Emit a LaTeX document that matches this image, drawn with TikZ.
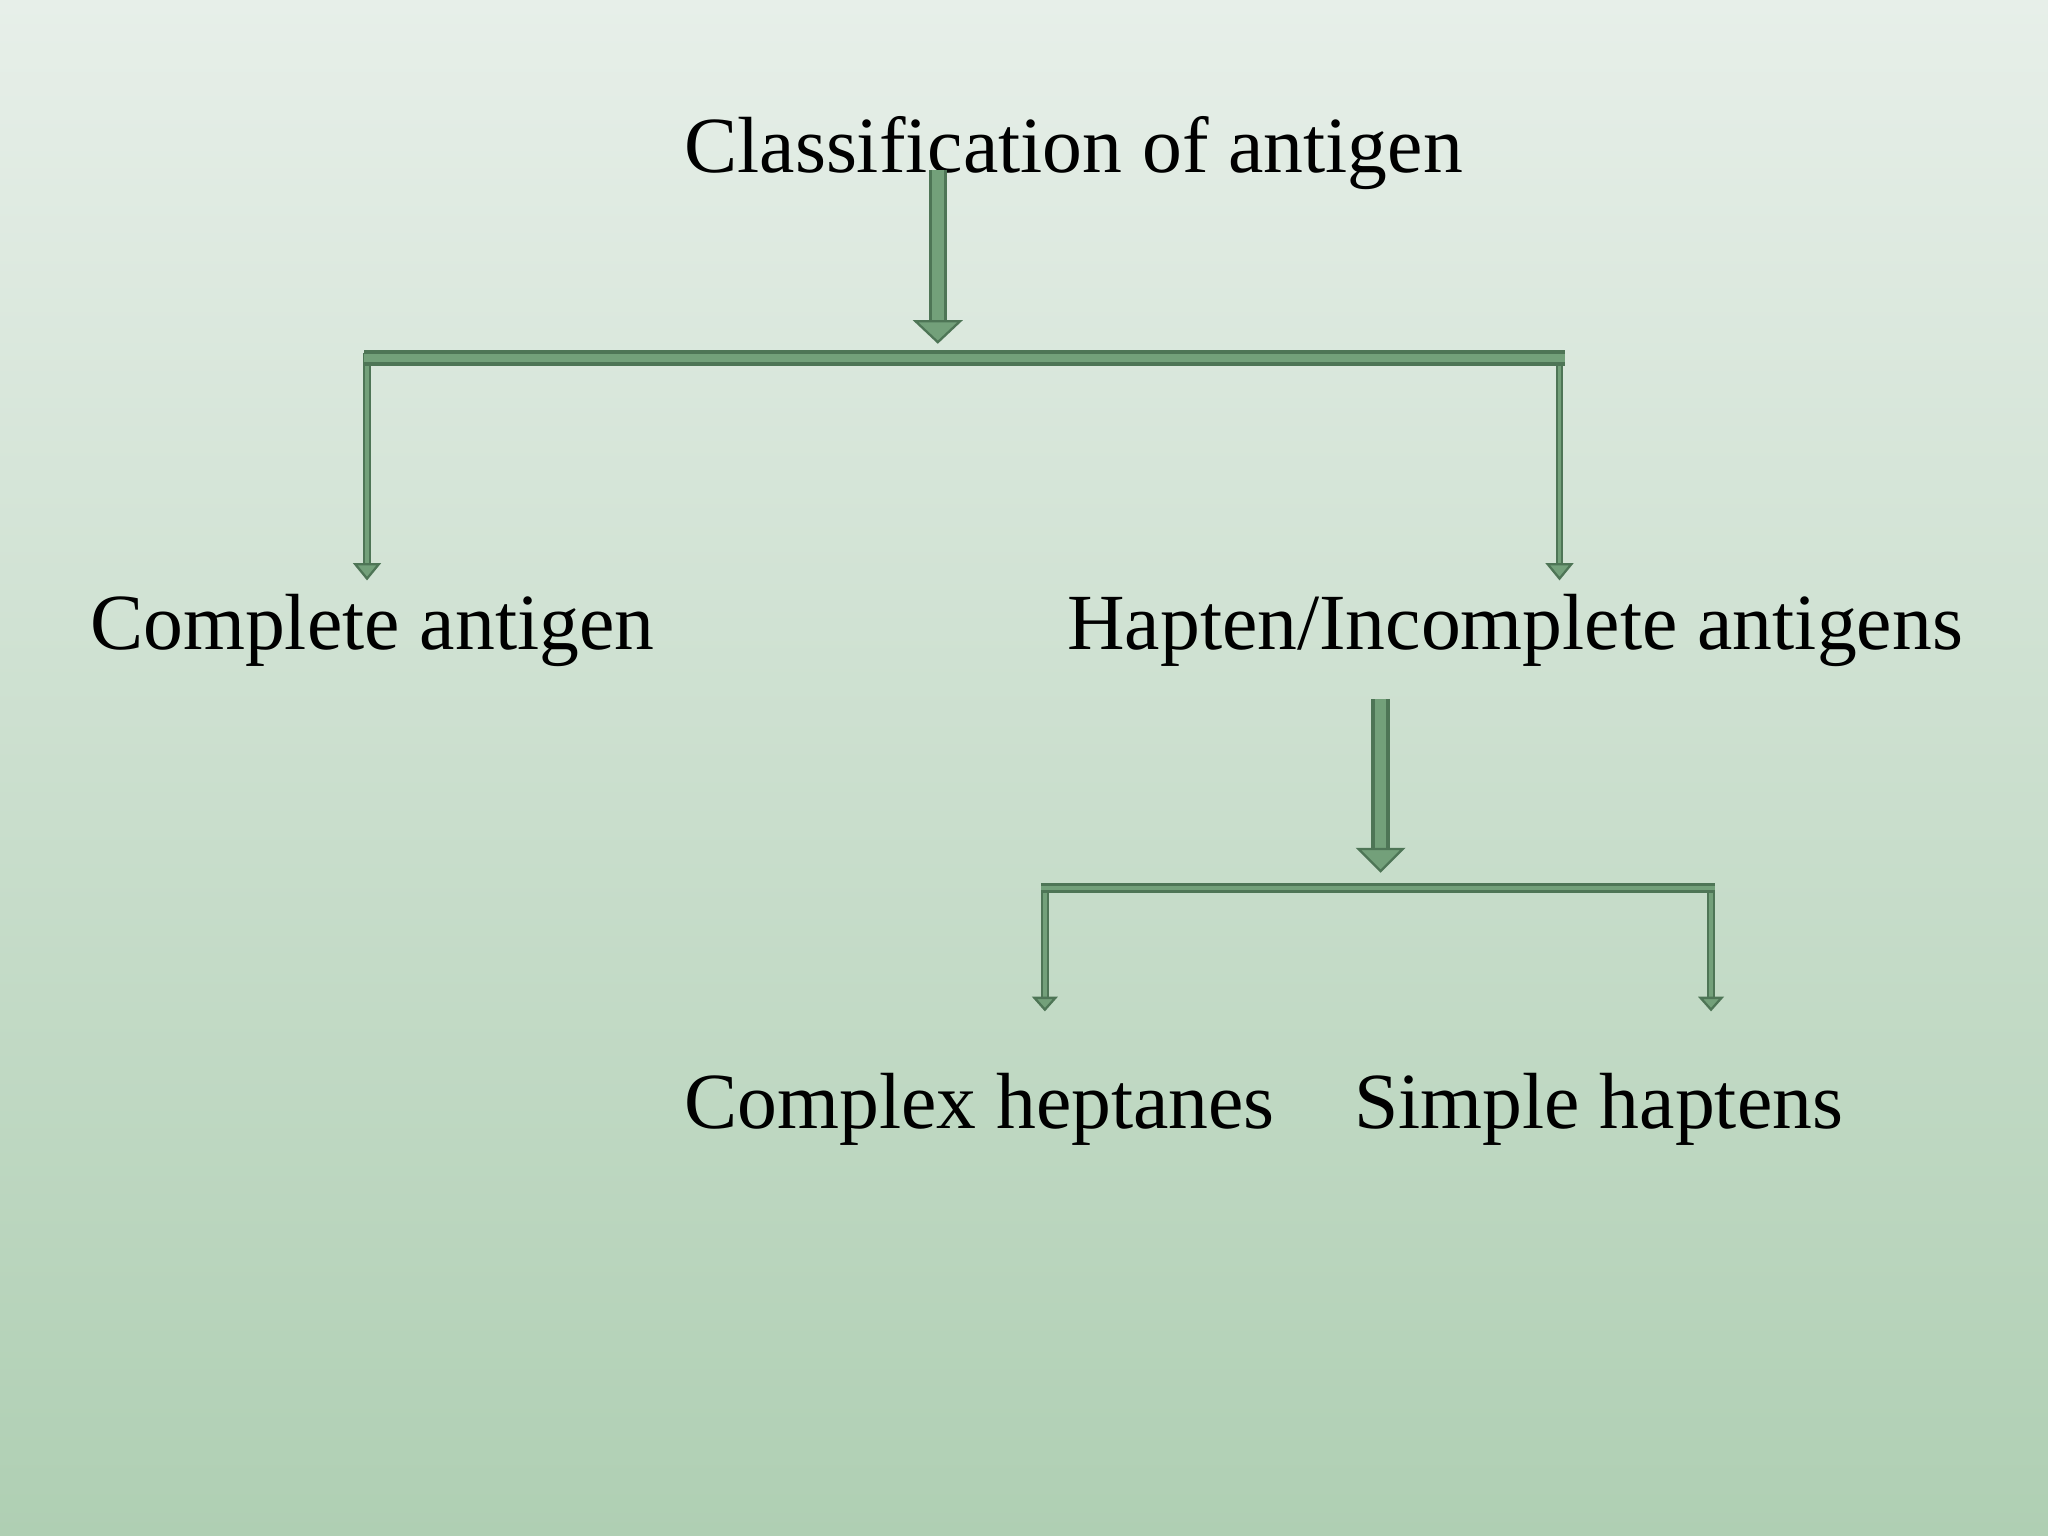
\documentclass[tikz,border=0pt]{standalone}
\usepackage{fontspec}
\setmainfont{Liberation Serif}
\definecolor{bgtop}{HTML}{E7EFE9}
\definecolor{bgbot}{HTML}{AFCFB3}
\definecolor{arrdark}{HTML}{4E7556}
\definecolor{arrfill}{HTML}{73A07A}
\tikzset{
  lbl/.style={font=\fontsize{34.7}{40}\selectfont, text=black, inner sep=0pt},
  shaft/.style={draw=arrdark, line width=#1, line cap=butt},
  shaftin/.style={draw=arrfill, line width=#1, line cap=butt},
  head/.style={fill=arrfill, draw=arrdark, line width=1pt, line join=miter}
}
\begin{document}
\begin{tikzpicture}[x=0.02cm,y=-0.02cm]
\shade[top color=bgtop, bottom color=bgbot] (0,0) rectangle (1568,1176);
\useasboundingbox (0,0) rectangle (1568,1176);
% texts
\node[lbl] (title) at (822,117) {Classification of antigen};
\node[lbl] (comp) at (285,483) {Complete antigen};
\node[lbl] (hap) at (1160,483) {Hapten/Incomplete antigens};
\node[lbl] (cx) at (750,849) {Complex heptanes};
\node[lbl] (sh) at (1224,849) {Simple haptens};
% coordinates
\coordinate (t0) at (718,130); \coordinate (t1) at (718,246);
\coordinate (bl) at (279,274); \coordinate (br) at (1198,274);
\coordinate (bl2) at (281,270); \coordinate (br2) at (1194,270);
\coordinate (l1) at (281,432); \coordinate (r1) at (1194,432);
\coordinate (h0) at (1057,535); \coordinate (h1) at (1057,650);
\coordinate (cl) at (797,680); \coordinate (cr) at (1313,680);
\coordinate (cl2) at (800,677); \coordinate (cr2) at (1310,677);
\coordinate (c1) at (800,764); \coordinate (s1) at (1310,764);
% bars
\draw[shaft=3.4pt] (bl2) -- (l1);
\draw[shaft=3.4pt] (br2) -- (r1);
\draw[shaft=3.4pt] (cl2) -- (c1);
\draw[shaft=3.4pt] (cr2) -- (s1);
\draw[shaftin=1.4pt] (bl2) -- (l1);
\draw[shaftin=1.4pt] (br2) -- (r1);
\draw[shaftin=1.4pt] (cl2) -- (c1);
\draw[shaftin=1.4pt] (cr2) -- (s1);
\draw[shaft=7pt] (bl) -- (br);
\draw[shaftin=3.5pt] (bl) -- (br);
\draw[shaft=4.5pt] (cl) -- (cr);
\draw[shaftin=2pt] (cl) -- (cr);
% shafts
\draw[shaft=8pt] (t0) -- (t1);
\draw[shaftin=5pt] (t0) -- (t1);
\draw[shaft=8pt] (h0) -- (h1);
\draw[shaftin=5pt] (h0) -- (h1);
% heads
\draw[head] (701,246) -- (735,246) -- (718,262) -- cycle;
\draw[head] (1040,650) -- (1074,650) -- (1057,667) -- cycle;
\draw[head] (272,432) -- (290,432) -- (281,443) -- cycle;
\draw[head] (1185,432) -- (1203,432) -- (1194,443) -- cycle;
\draw[head] (792,764) -- (808,764) -- (800,773) -- cycle;
\draw[head] (1302,764) -- (1318,764) -- (1310,773) -- cycle;
\end{tikzpicture}
\end{document}
